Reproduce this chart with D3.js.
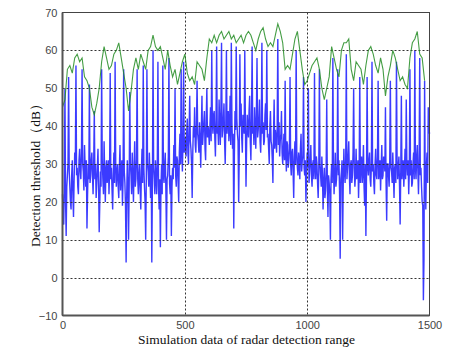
<!DOCTYPE html>
<html>
<head>
<meta charset="utf-8">
<script src="https://cdn.jsdelivr.net/npm/d3@7"></script>
<style>
  html, body { margin: 0; padding: 0; background: #fff; }
  svg { display: block; }
</style>
</head>
<body>
<svg id="chart" width="474" height="356"></svg>
<script>
// ---------------- data ----------------
const xTicks = [0, 500, 1000, 1500];
const yTicks = [-10, 0, 10, 20, 30, 40, 50, 60, 70];
const xLabel = "Simulation data of radar detection range";
const yLabel = "Detection threshold（dB）";

// blue series: detection threshold, one value every 2.5 samples (0..1500)
const blueStep = 2.5;
const blueValues = [
  22,17,14,25,50,20,11,24,27,30,53,28,24,20,18,27,31,22,16,26,
  33,30,56,27,29,24,22,31,34,28,26,33,55,30,28,23,35,29,24,31,
  13,22,30,26,51,25,27,31,33,27,22,30,44,26,30,21,25,29,34,24,
  12,20,28,24,55,31,26,22,36,27,20,29,31,25,27,31,22,28,54,26,
  29,23,18,27,33,25,57,30,24,28,30,24,21,29,35,23,28,31,19,26,
  55,28,25,19,4,22,31,25,10,24,49,30,27,22,33,27,20,29,36,24,
  26,31,55,26,22,27,30,23,18,28,34,25,56,29,24,20,10,26,55,30,
  28,24,33,27,21,30,4,25,60,29,26,22,31,27,22,30,57,24,18,26,
  8,24,30,22,56,27,25,30,33,23,10,26,27,32,58,25,22,27,11,24,
  29,26,35,29,50,27,24,32,31,25,20,33,38,30,55,34,28,36,57,33,
  37,35,32,38,42,33,30,39,48,36,34,30,21,33,40,37,45,35,33,40,
  52,38,36,33,41,36,29,39,48,35,38,41,44,34,31,42,50,37,40,38,
  35,40,45,36,60,41,38,43,44,37,32,42,61,38,40,35,47,41,35,44,
  62,37,39,42,46,36,30,40,60,38,42,44,36,39,48,35,62,41,34,38,
  13,32,44,39,61,42,38,36,20,33,59,40,46,37,33,43,42,38,60,41,
  24,35,43,39,37,44,48,36,31,42,61,38,40,35,45,40,34,43,58,37,
  39,42,47,36,33,40,62,38,41,35,36,43,46,39,60,37,38,34,30,40,
  44,36,35,31,25,38,47,34,39,37,33,40,63,35,41,32,36,38,44,33,
  30,34,38,31,52,33,28,36,35,29,31,34,53,30,27,33,34,28,21,32,
  36,30,60,33,29,27,33,31,26,34,38,28,31,32,53,29,27,31,20,27,
  33,29,50,25,28,31,35,27,24,30,31,26,54,29,26,32,30,25,21,28,
  55,30,27,24,32,27,18,25,29,21,23,28,47,24,16,27,25,22,10,26,
  30,25,58,29,22,27,33,24,26,30,55,27,31,22,5,26,28,31,10,25,
  34,28,25,31,59,26,29,32,36,27,22,30,31,25,27,33,50,29,24,27,
  34,26,28,31,21,28,53,25,30,32,25,28,35,24,19,30,11,27,53,29,
  27,31,33,26,24,30,57,28,30,25,22,30,34,27,26,32,52,26,29,31,
  23,29,35,26,27,32,31,28,45,25,15,30,30,27,24,31,52,29,28,25,
  33,27,21,29,30,25,57,31,26,29,32,24,14,28,48,26,29,31,24,28,
  34,26,47,30,27,31,22,28,55,27,31,24,25,30,33,26,60,29,26,32,
  35,28,22,30,58,27,29,24,20,19,-6,5,52,26,18,30,33,25,45,40,
  38
];

// green series: envelope, one value every 10 samples (0..1480)
const greenStep = 10;
const greenValues = [
  45, 47, 55, 56, 54, 58, 59, 57, 58, 53,
  52, 50, 45, 43, 46, 50, 57, 61, 58, 55,
  56, 59, 60, 62, 58, 54, 50, 44, 49, 55,
  58, 55, 59, 57, 55, 60, 61, 64, 61, 60,
  61, 58, 55, 60, 56, 53, 55, 51, 54, 57,
  59, 54, 52, 53, 51, 57, 56, 55, 52, 58,
  63, 62, 64, 62, 64, 65, 63, 64, 65, 63,
  64, 62, 63, 64, 62, 64, 65, 64, 62, 60,
  63, 65, 66, 63, 61, 62, 61, 64, 67, 65,
  62, 55, 56, 55, 59, 63, 65, 60, 55, 51,
  52, 54, 56, 57, 58, 55, 50, 47, 50, 53,
  61, 58, 55, 53, 60, 62, 62, 63, 55, 52,
  57, 56, 55, 51, 56, 60, 61, 59, 56, 54,
  58, 55, 48, 53, 56, 60, 58, 55, 52, 53,
  51, 50, 58, 62, 63, 65, 59, 58, 52
];

// ---------------- chart ----------------
const svg = d3.select("#chart");
const pLeft = 62.5, pRight = 429.5, pTop = 12.5, pBottom = 315.5;

const x = d3.scaleLinear().domain([0, 1500]).range([pLeft, pRight]);
const y = d3.scaleLinear().domain([-10, 70]).range([pBottom, pTop]);

const blueLine = d3.line().x((d, i) => x(i * blueStep)).y(d => y(d));
const greenLine = d3.line().x((d, i) => x(i * greenStep)).y(d => y(d));

// blue series
svg.append("path").datum(blueValues)
  .attr("d", blueLine)
  .attr("fill", "none")
  .attr("stroke", "#1010ff")
  .attr("stroke-opacity", 0.82)
  .attr("stroke-width", 1.4)
  .attr("stroke-linejoin", "miter")
  .attr("stroke-miterlimit", 2);

// grid (drawn over the dense blue trace as in the original)
const grid = svg.append("g").attr("stroke", "#333").attr("stroke-width", 1)
  .attr("stroke-dasharray", "2,2");
grid.selectAll(".gx").data(xTicks.filter(d => d > 0 && d < 1500)).enter()
  .append("line")
  .attr("x1", d => Math.round(x(d)) + 0.5).attr("x2", d => Math.round(x(d)) + 0.5)
  .attr("y1", pTop).attr("y2", pBottom);
grid.selectAll(".gy").data(yTicks.filter(d => d > -10 && d < 70)).enter()
  .append("line")
  .attr("x1", pLeft).attr("x2", pRight)
  .attr("y1", d => Math.round(y(d)) + 0.5).attr("y2", d => Math.round(y(d)) + 0.5);

// green series
svg.append("path").datum(greenValues)
  .attr("d", greenLine)
  .attr("fill", "none")
  .attr("stroke", "#238c23")
  .attr("stroke-opacity", 0.85)
  .attr("stroke-width", 1.1);

// frame
svg.append("rect")
  .attr("x", pLeft).attr("y", pTop)
  .attr("width", pRight - pLeft).attr("height", pBottom - pTop)
  .attr("fill", "none").attr("stroke", "#444").attr("stroke-width", 1);
svg.append("line").attr("x1", pLeft).attr("x2", pLeft).attr("y1", pTop).attr("y2", pBottom)
  .attr("stroke", "#555").attr("stroke-width", 2);
svg.append("line").attr("x1", pLeft).attr("x2", pRight).attr("y1", pBottom).attr("y2", pBottom)
  .attr("stroke", "#555").attr("stroke-width", 2);

// axes
const yAxis = d3.axisLeft(y).tickValues(yTicks).tickSize(0).tickPadding(5)
  .tickFormat(d3.format("d"));
const gy = svg.append("g").attr("transform", `translate(${pLeft},0)`).call(yAxis);
const xAxis = d3.axisBottom(x).tickValues(xTicks).tickSize(0).tickPadding(6)
  .tickFormat(d3.format("d"));
const gx = svg.append("g").attr("transform", `translate(0,${pBottom})`).call(xAxis);
[gx, gy].forEach(g => {
  g.select(".domain").remove();
  g.selectAll("text")
    .attr("font-family", "'Liberation Sans', Arial, sans-serif")
    .attr("font-size", 11)
    .attr("fill", "#444");
});

// labels
svg.append("text")
  .attr("x", (pLeft + pRight) / 2 + 0.5).attr("y", 344)
  .attr("text-anchor", "middle")
  .attr("font-family", "'Liberation Serif', 'Times New Roman', serif")
  .attr("font-size", 13.5)
  .attr("fill", "#111")
  .text(xLabel);

svg.append("text")
  .attr("transform", "translate(40,172) rotate(-90)")
  .attr("text-anchor", "middle")
  .attr("font-family", "'Liberation Serif', 'Times New Roman', serif")
  .attr("font-size", 13.5)
  .attr("fill", "#111")
  .text(yLabel);
</script>
</body>
</html>
